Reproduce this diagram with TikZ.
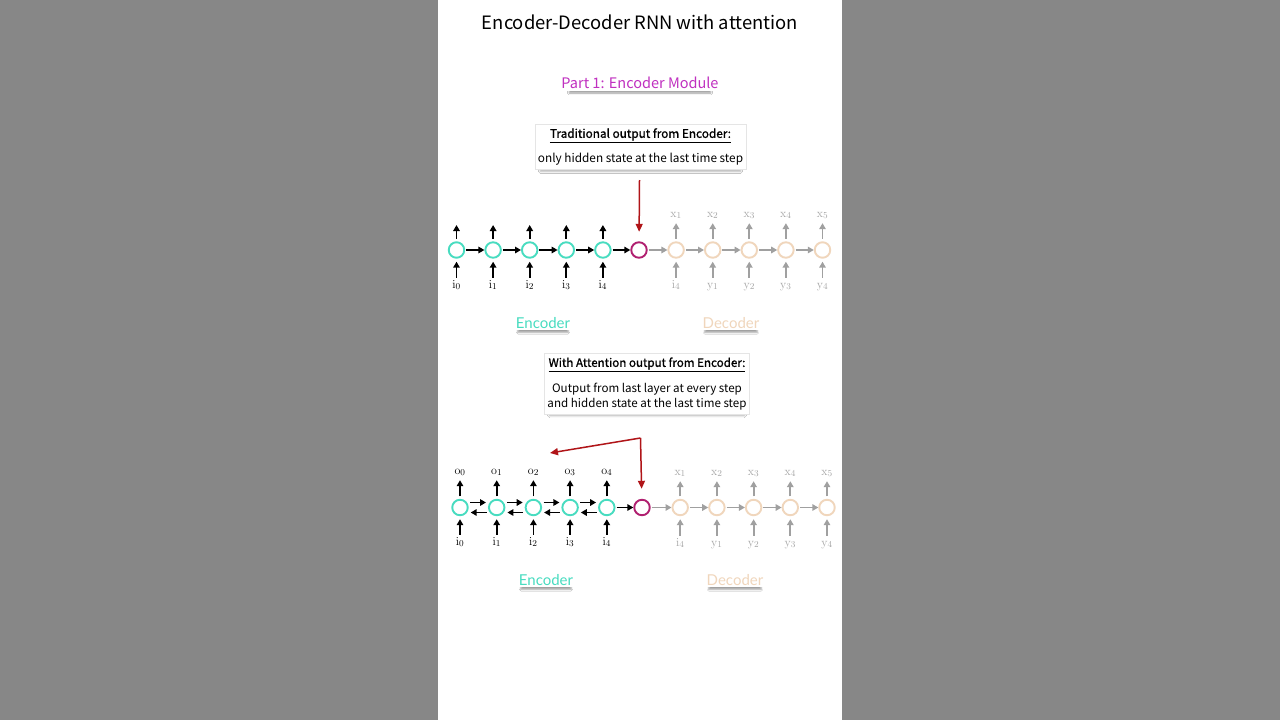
\documentclass[tikz,border=0pt]{standalone}
\usepackage[no-math]{fontspec}
\setmainfont{Noto Sans CJK KR}
\newfontfamily\semibf[FakeBold=1.1]{Noto Sans CJK KR}
\newfontfamily\tagfont{Lato}
\usetikzlibrary{arrows.meta,shadows.blur}
\definecolor{bgGray}{RGB}{135,135,135}
\definecolor{encCol}{RGB}{72,220,192}
\definecolor{decCol}{RGB}{240,214,188}
\definecolor{magCol}{RGB}{176,32,112}
\definecolor{partCol}{RGB}{192,48,192}
\definecolor{redCol}{RGB}{176,20,24}
\definecolor{arrGray}{RGB}{160,160,160}
\definecolor{lblGray}{RGB}{165,165,165}
\tikzset{
  cell/.style={circle, line width=1.9pt, minimum size=15.5pt, inner sep=0pt},
  enc/.style={cell, draw=encCol},
  dec/.style={cell, draw=decCol},
  mid/.style={cell, draw=magCol},
  arr/.style={-{Triangle[length=6pt,width=6.5pt]}, line width=1.8pt, black},
  garr/.style={arr, arrGray},
  rarr/.style={-{Triangle[length=8pt,width=7pt]}, line width=1.5pt, redCol},
  lbl/.style={font=\fontsize{12.5}{13}\selectfont, inner sep=0pt, text height=6pt, text depth=2pt},
  glbl/.style={lbl, text=lblGray},
  boxsh/.style={blur shadow={shadow xshift=0pt, shadow yshift=-3pt, shadow scale=0.95, shadow blur radius=2pt, shadow opacity=30}},
  tagsh/.style={blur shadow={shadow xshift=0pt, shadow yshift=-3.5pt, shadow scale=0.88, shadow blur radius=2pt, shadow opacity=38}},
  infobox/.style={draw=black!10, fill=white, line width=0.6pt, align=center, boxsh, inner xsep=3pt, inner ysep=4pt},
  tag/.style={fill=white, inner sep=1.5pt, tagsh, font=\tagfont\fontsize{15}{16}\selectfont},
}
\begin{document}
\begin{tikzpicture}[x=1pt,y=-1pt]
\useasboundingbox (0,0) rectangle (1280,720);
\fill[bgGray] (0,0) rectangle (1280,720);
\fill[white] (438,0) rectangle (842,720);

\node[font=\fontsize{18.4}{20}\selectfont] (title) at (640,22) {Encoder-Decoder RNN with attention};
\node[fill=white, tagsh, inner sep=2pt, text=partCol, font=\fontsize{14.5}{16}\selectfont] (part) at (640,83) {Part 1: Encoder Module};

% ---------- box 1
\node[infobox, font=\fontsize{11.8}{14}\selectfont] (box1) at (640.5,147)
  {\underline{\semibf Traditional output from Encoder:}\\[10pt] only hidden state at the last time step};

% ---------- row 1
\foreach \i in {0,...,4}{
  \node[enc] (e1\i) at ({456.5+36.6*\i},250) {};
  \node[lbl] (ia\i) at ({456.5+36.6*\i},286) {$\mathrm{i}_{\i}$};
  \coordinate (ta\i) at ({456.5+36.6*\i},225);
  \draw[arr, shorten <=2.5pt] (e1\i) -- (ta\i);
  \draw[arr, shorten <=4pt, shorten >=3pt] (ia\i) -- (e1\i);
}
\node[mid] (m1) at (639,250) {};
\foreach \i/\t/\b in {1/1/\mathrm{i}_4,2/2/\mathrm{y}_1,3/3/\mathrm{y}_2,4/4/\mathrm{y}_3,5/5/\mathrm{y}_4}{
  \node[dec] (d1\i) at ({676.1+36.6*(\i-1)},250) {};
  \node[glbl] (xa\i) at ({676.1+36.6*(\i-1)},215) {$\mathrm{x}_{\t}$};
  \node[glbl] (ya\i) at ({676.1+36.6*(\i-1)},286) {$\b$};
  \draw[garr, shorten <=2.5pt, shorten >=4pt] (d1\i) -- (xa\i);
  \draw[garr, shorten <=4pt, shorten >=3pt] (ya\i) -- (d1\i);
}
\foreach \i/\j in {0/1,1/2,2/3,3/4}{ \draw[arr, shorten <=1pt] (e1\i) -- (e1\j); }
\draw[arr, shorten <=1pt] (e14) -- (m1);
\draw[garr, shorten <=1pt] (m1) -- (d11);
\foreach \i/\j in {1/2,2/3,3/4,4/5}{ \draw[garr, shorten <=1pt] (d1\i) -- (d1\j); }

\coordinate (r1s) at (639.5,180);
\draw[rarr, shorten >=9.5pt] (r1s) -- (m1);

\node[tag, text=encCol] (enc1) at (543,323) {Encoder};
\node[tag, text=decCol] (dec1) at (731,323) {Decoder};

% ---------- box 2
\node[infobox, font=\fontsize{11.6}{15}\selectfont] (box2) at (647,384)
  {\underline{\semibf With Attention output from Encoder:}\\[11pt] Output from last layer at every step\\ and hidden state at the last time step};

% ---------- row 2
\foreach \i in {0,...,4}{
  \node[enc] (e2\i) at ({460+36.7*\i},507.5) {};
  \node[lbl] (ib\i) at ({460+36.7*\i},543) {$\mathrm{i}_{\i}$};
  \node[lbl] (ob\i) at ({460+36.7*\i},472) {$\mathrm{o}_{\i}$};
  \draw[arr, shorten <=2.5pt, shorten >=4pt] (e2\i) -- (ob\i);
  \draw[arr, shorten <=4pt, shorten >=3pt] (ib\i) -- (e2\i);
}
\node[mid] (m2) at (642,507.5) {};
\foreach \i/\t/\b in {1/1/\mathrm{i}_4,2/2/\mathrm{y}_1,3/3/\mathrm{y}_2,4/4/\mathrm{y}_3,5/5/\mathrm{y}_4}{
  \node[dec] (d2\i) at ({680.2+36.7*(\i-1)},507.5) {};
  \node[glbl] (xb\i) at ({680.2+36.7*(\i-1)},473) {$\mathrm{x}_{\t}$};
  \node[glbl] (yb\i) at ({680.2+36.7*(\i-1)},544) {$\b$};
  \draw[garr, shorten <=2.5pt, shorten >=4pt] (d2\i) -- (xb\i);
  \draw[garr, shorten <=4pt, shorten >=3pt] (yb\i) -- (d2\i);
}
\foreach \i/\j in {0/1,1/2,2/3,3/4}{
  \draw[arr, shorten <=1.5pt, shorten >=2pt] ([yshift=5pt]e2\i.east) -- ([yshift=5pt]e2\j.west);
  \draw[arr, shorten <=1.5pt, shorten >=2pt] ([yshift=-5pt]e2\j.west) -- ([yshift=-5pt]e2\i.east);
}
\draw[arr, shorten <=1pt] (e24) -- (m2);
\draw[garr, shorten <=1pt] (m2) -- (d21);
\foreach \i/\j in {1/2,2/3,3/4,4/5}{ \draw[garr, shorten <=1pt] (d2\i) -- (d2\j); }

\coordinate (r2c) at (640.5,438);
\coordinate (r2l) at (550,453);
\draw[rarr] (r2c) -- (r2l);
\draw[rarr, shorten >=10pt] (r2c) -- (m2);

\node[tag, text=encCol] (enc2) at (546,580) {Encoder};
\node[tag, text=decCol] (dec2) at (735,580) {Decoder};
\end{tikzpicture}
\end{document}
